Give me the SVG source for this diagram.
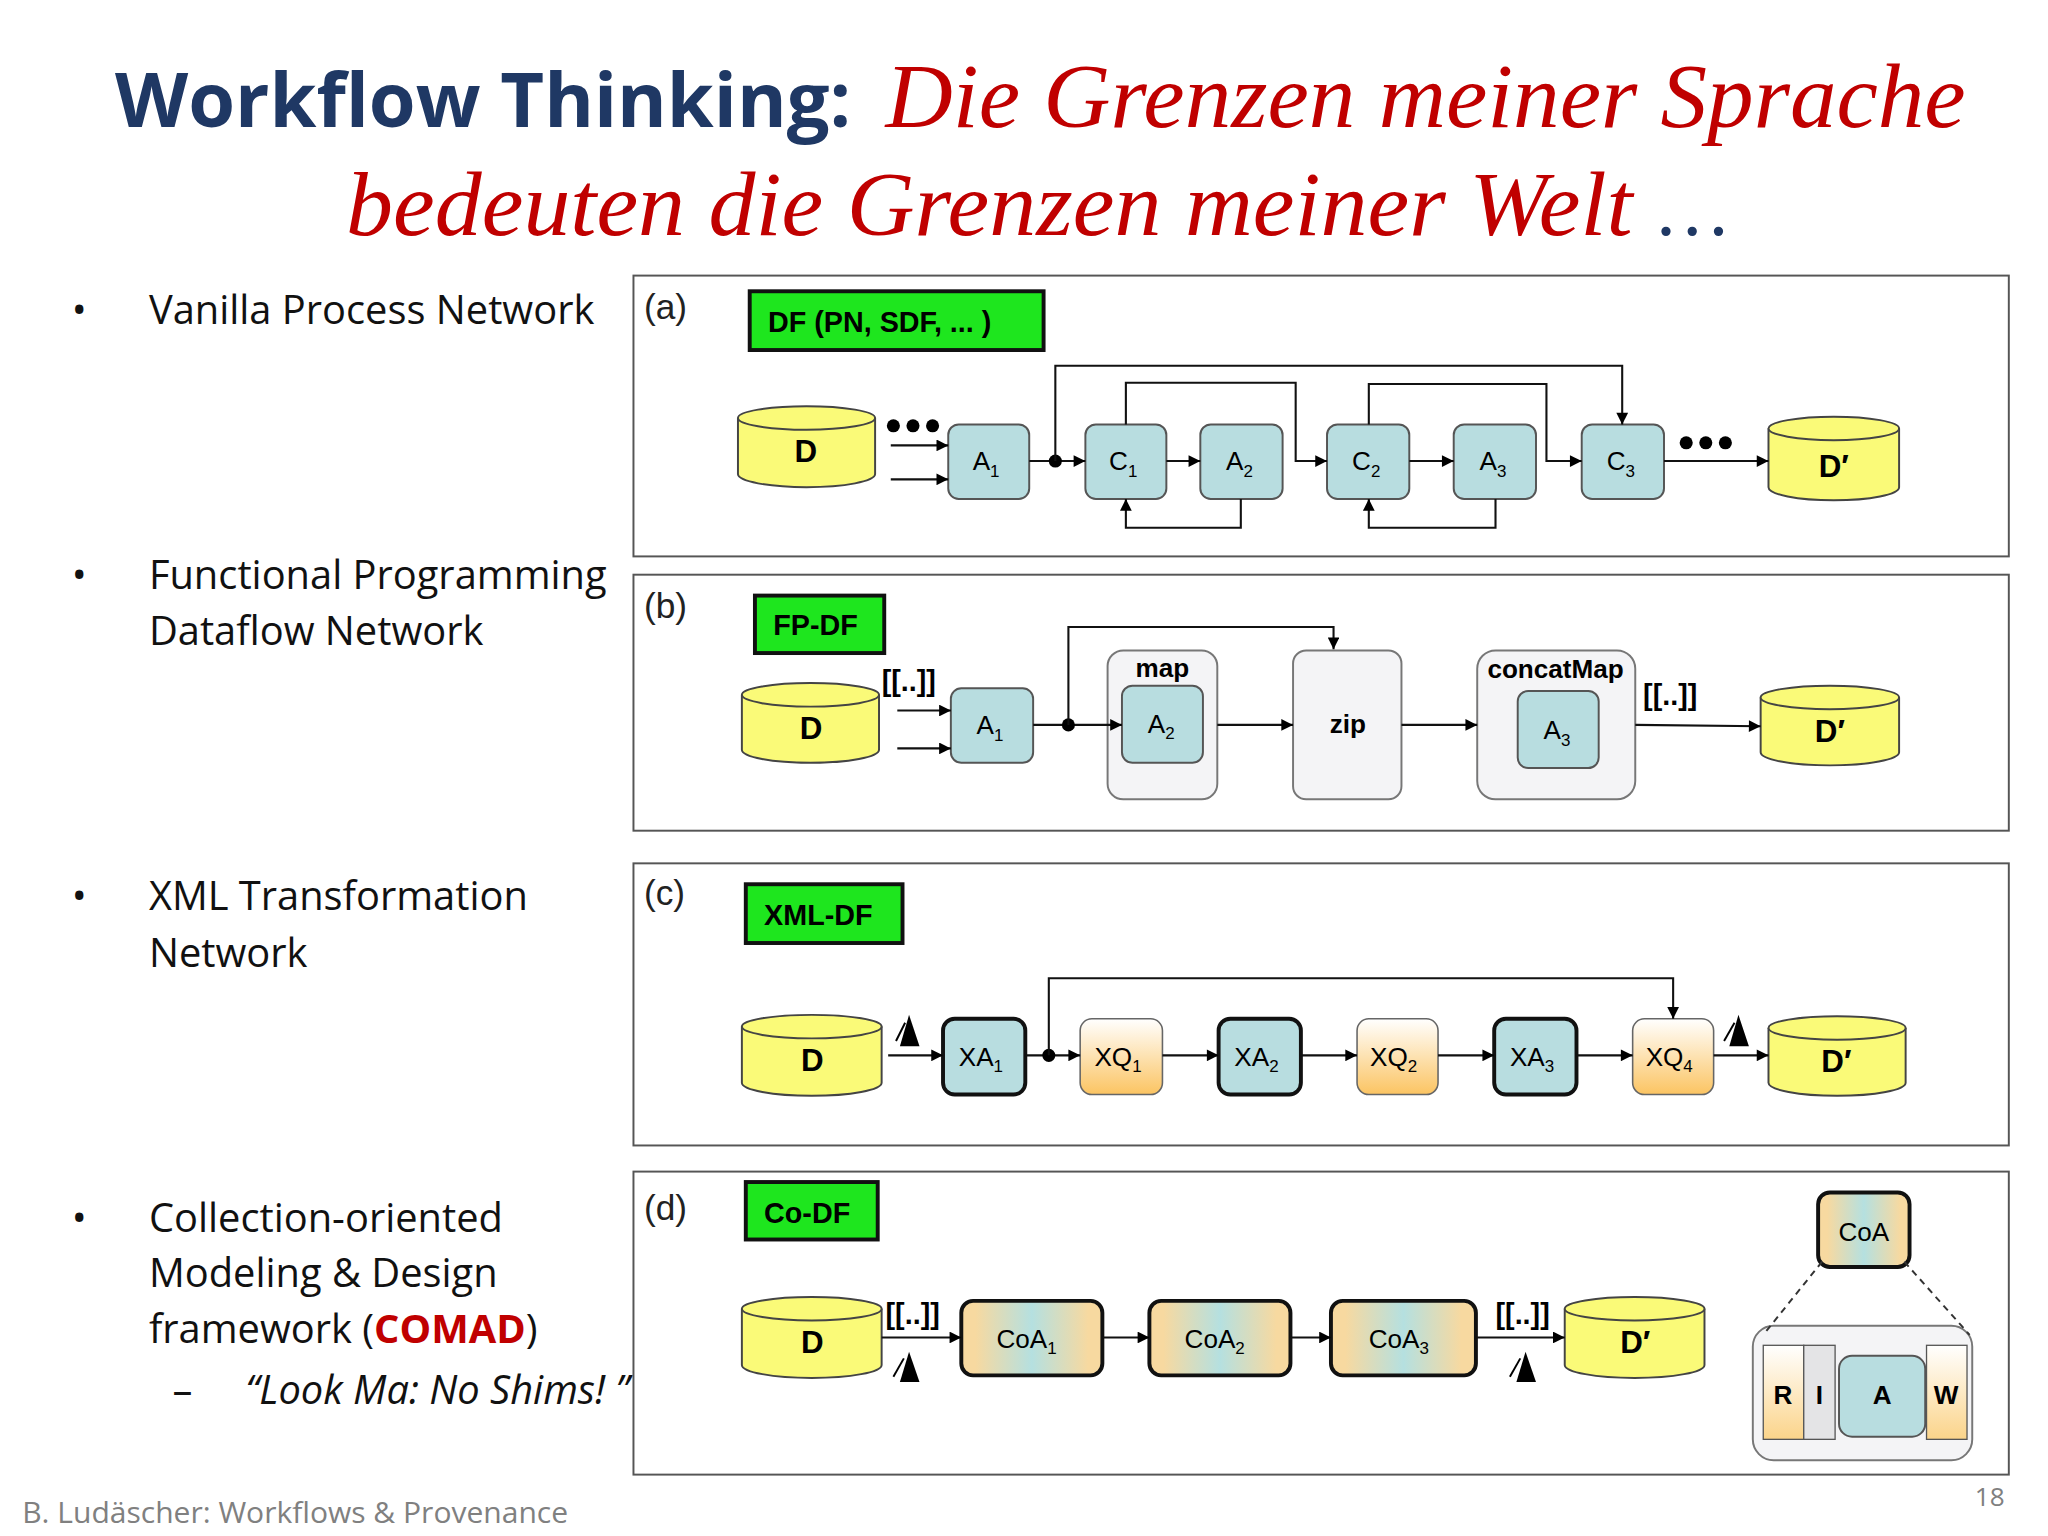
<svg xmlns="http://www.w3.org/2000/svg" width="2048" height="1536" viewBox="0 0 2048 1536">
<defs>
<style>
.pan{fill:#fff;stroke:#555;stroke-width:1.5}
.lbl{font-family:"Liberation Sans",Arial,sans-serif;font-size:27px;fill:#222}
.grn{fill:#1ee61e;stroke:#111;stroke-width:3}
.gt{font-family:"Liberation Sans",Arial,sans-serif;font-weight:bold;font-size:22px;fill:#000}
.cyl{fill:#fafa78;stroke:#444;stroke-width:1.5}
.ct{font-family:"Liberation Sans",Arial,sans-serif;font-weight:bold;font-size:24px;fill:#000;text-anchor:middle}
.box{fill:#b8dde0;stroke:#555;stroke-width:1.5}
.boxk{fill:#b8dde0;stroke:#111;stroke-width:3}
.xq{fill:url(#og);stroke:#666;stroke-width:1.2}
.coa{fill:url(#cg);stroke:#111;stroke-width:3}
.cont{fill:#f4f4f6;stroke:#777;stroke-width:1.5}
.nt{font-family:"Liberation Sans",Arial,sans-serif;font-size:20px;fill:#000;text-anchor:middle}
.ln{fill:none;stroke:#111;stroke-width:1.6}
.dot{fill:#000}
.bul{font-family:"Open Sans","DejaVu Sans",sans-serif;font-size:30.5px;fill:#111}
.brk{font-family:"Liberation Sans",Arial,sans-serif;font-weight:bold;font-size:22px;fill:#000}
</style>
<linearGradient id="og" x1="0" y1="0" x2="0" y2="1"><stop offset="0" stop-color="#fff"/><stop offset="1" stop-color="#fbc462"/></linearGradient>
<linearGradient id="cg" x1="0" y1="0" x2="1" y2="0"><stop offset="0.1" stop-color="#f7d9a0"/><stop offset="0.5" stop-color="#b5e0e0"/><stop offset="0.9" stop-color="#f7d9a0"/></linearGradient>
<linearGradient id="rg" x1="0" y1="0" x2="0" y2="1"><stop offset="0" stop-color="#fff"/><stop offset="1" stop-color="#fbd48a"/></linearGradient>
<marker id="ar" viewBox="0 0 10 10" refX="10" refY="5" markerWidth="10" markerHeight="9" orient="auto" markerUnits="userSpaceOnUse"><path d="M0,0 L10,5 L0,10 z" fill="#000"/></marker>
</defs>
<rect width="2048" height="1536" fill="#fff"/>
<g transform="scale(1.30612)">
<g id="title">
<text x="88" y="97" font-family="'Open Sans','DejaVu Sans',sans-serif" font-weight="bold" font-size="58" fill="#1f3864">Workflow Thinking:</text>
<text x="678" y="97" font-family="'Liberation Serif',serif" font-style="italic" font-size="70" fill="#c00000" textLength="827" lengthAdjust="spacingAndGlyphs">Die Grenzen meiner Sprache</text>
<text x="265" y="180" font-family="'Liberation Serif',serif" font-style="italic" font-size="70" fill="#c00000" textLength="985" lengthAdjust="spacingAndGlyphs">bedeuten die Grenzen meiner Welt</text>
<text x="1270" y="180" font-family="'Liberation Serif',serif" font-style="italic" font-size="60" fill="#1f3864">…</text>
</g>
<g id="bullets">
<text class="bul" x="55" y="248">•</text><text class="bul" x="114" y="248">Vanilla Process Network</text>
<text class="bul" x="55" y="451">•</text><text class="bul" x="114" y="451">Functional Programming</text><text class="bul" x="114" y="494">Dataflow Network</text>
<text class="bul" x="55" y="697">•</text><text class="bul" x="114" y="697">XML Transformation</text><text class="bul" x="114" y="740">Network</text>
<text class="bul" x="55" y="943">•</text><text class="bul" x="114" y="943">Collection-oriented</text><text class="bul" x="114" y="985">Modeling &amp; Design</text><text class="bul" x="114" y="1028">framework (<tspan fill="#c00000" font-weight="bold">COMAD</tspan>)</text>
<text class="bul" x="132" y="1075">–</text><text class="bul" x="188" y="1075" font-style="italic" font-size="28">“Look Ma: No Shims! ”</text>
</g>
<g id="panels">
<rect class="pan" x="485" y="211" width="1053" height="215"/>
<rect class="pan" x="485" y="440" width="1053" height="196"/>
<rect class="pan" x="485" y="661" width="1053" height="216"/>
<rect class="pan" x="485" y="897" width="1053" height="232"/>
<text class="lbl" x="493" y="244">(a)</text>
<text class="lbl" x="493" y="473">(b)</text>
<text class="lbl" x="493" y="693">(c)</text>
<text class="lbl" x="493" y="934">(d)</text>
<rect class="grn" x="574" y="223" width="225" height="45"/><text class="gt" x="588" y="254">DF (PN, SDF, ... )</text>
<rect class="grn" x="578" y="456" width="99" height="44"/><text class="gt" x="592" y="486">FP-DF</text>
<rect class="grn" x="571" y="677" width="120" height="45"/><text class="gt" x="585" y="708">XML-DF</text>
<rect class="grn" x="571" y="905" width="101" height="44"/><text class="gt" x="585" y="936">Co-DF</text>
</g>
<g id="a-nodes">
<g id="a-D"><path class="cyl" d="M565,320 L565,363 A52.5,10 0 0 0 670,363 L670,320"/><ellipse class="cyl" cx="617.5" cy="320" rx="52.5" ry="9"/><text class="ct" x="617" y="354">D</text></g>
<g id="a-A1"><rect class="box" x="726" y="325" width="62" height="57" rx="8"/><text class="nt" x="755" y="360">A<tspan font-size="13" dy="5">1</tspan></text></g>
<g id="a-C1"><rect class="box" x="831" y="325" width="62" height="57" rx="8"/><text class="nt" x="860" y="360">C<tspan font-size="13" dy="5">1</tspan></text></g>
<g id="a-A2"><rect class="box" x="919" y="325" width="63" height="57" rx="8"/><text class="nt" x="949" y="360">A<tspan font-size="13" dy="5">2</tspan></text></g>
<g id="a-C2"><rect class="box" x="1016" y="325" width="63" height="57" rx="8"/><text class="nt" x="1046" y="360">C<tspan font-size="13" dy="5">2</tspan></text></g>
<g id="a-A3"><rect class="box" x="1113" y="325" width="63" height="57" rx="8"/><text class="nt" x="1143" y="360">A<tspan font-size="13" dy="5">3</tspan></text></g>
<g id="a-C3"><rect class="box" x="1211" y="325" width="63" height="57" rx="8"/><text class="nt" x="1241" y="360">C<tspan font-size="13" dy="5">3</tspan></text></g>
<g id="a-D2"><path class="cyl" d="M1354,328 L1354,373 A50,10 0 0 0 1454,373 L1454,328"/><ellipse class="cyl" cx="1404" cy="328" rx="50" ry="9"/><text class="ct" x="1404" y="365">D′</text></g>
</g>
<g id="a-conn">
<circle class="dot" cx="684" cy="326" r="5"/><circle class="dot" cx="699" cy="326" r="5"/><circle class="dot" cx="714" cy="326" r="5"/>
<circle class="dot" cx="1291" cy="339" r="5"/><circle class="dot" cx="1306" cy="339" r="5"/><circle class="dot" cx="1321" cy="339" r="5"/>
<line class="ln" x1="682" y1="341" x2="726" y2="341" marker-end="url(#ar)"/>
<line class="ln" x1="682" y1="367" x2="726" y2="367" marker-end="url(#ar)"/>
<line class="ln" x1="788" y1="353" x2="831" y2="353" marker-end="url(#ar)"/>
<circle class="dot" cx="808" cy="353" r="5"/>
<line class="ln" x1="893" y1="353" x2="919" y2="353" marker-end="url(#ar)"/>
<line class="ln" x1="1079" y1="353" x2="1113" y2="353" marker-end="url(#ar)"/>
<line class="ln" x1="1274" y1="353" x2="1354" y2="353" marker-end="url(#ar)"/>
<polyline class="ln" points="808,353 808,280 1242,280 1242,325" marker-end="url(#ar)"/>
<polyline class="ln" points="862,325 862,293 992,293 992,353 1016,353" marker-end="url(#ar)"/>
<polyline class="ln" points="1048,325 1048,294 1184,294 1184,353 1211,353" marker-end="url(#ar)"/>
<polyline class="ln" points="950,382 950,404 862,404 862,382" marker-end="url(#ar)"/>
<polyline class="ln" points="1145,382 1145,404 1048,404 1048,382" marker-end="url(#ar)"/>
</g>
<g id="b-nodes">
<g id="b-D"><path class="cyl" d="M568,532 L568,574 A52.5,10 0 0 0 673,574 L673,532"/><ellipse class="cyl" cx="620.5" cy="532" rx="52.5" ry="9"/><text class="ct" x="621" y="566">D</text></g>
<g id="b-A1"><rect class="box" x="728" y="527" width="63" height="57" rx="8"/><text class="nt" x="758" y="562">A<tspan font-size="13" dy="5">1</tspan></text></g>
<g id="b-map"><rect class="cont" x="848" y="498" width="84" height="114" rx="12"/><text class="nt" x="890" y="518" font-weight="bold" font-size="18">map</text>
<rect class="box" x="859" y="525" width="62" height="59" rx="8"/><text class="nt" x="889" y="561">A<tspan font-size="13" dy="5">2</tspan></text></g>
<g id="b-zip"><rect class="cont" x="990" y="498" width="83" height="114" rx="10"/><text class="nt" x="1032" y="561" font-weight="bold" font-size="19">zip</text></g>
<g id="b-cm"><rect class="cont" x="1131" y="498" width="121" height="114" rx="14"/><text class="nt" x="1191" y="519" font-weight="bold" font-size="18">concatMap</text>
<rect class="box" x="1162" y="529" width="62" height="59" rx="8"/><text class="nt" x="1192" y="566">A<tspan font-size="13" dy="5">3</tspan></text></g>
<g id="b-D2"><path class="cyl" d="M1348,534 L1348,576 A53,10 0 0 0 1454,576 L1454,534"/><ellipse class="cyl" cx="1401" cy="534" rx="53" ry="9"/><text class="ct" x="1401" y="568">D′</text></g>
</g>
<g id="b-conn">
<text class="brk" x="675" y="529">[[..]]</text>
<text class="brk" x="1258" y="540">[[..]]</text>
<line class="ln" x1="687" y1="544" x2="728" y2="544" marker-end="url(#ar)"/>
<line class="ln" x1="687" y1="573" x2="728" y2="573" marker-end="url(#ar)"/>
<line class="ln" x1="791" y1="555" x2="859" y2="555" marker-end="url(#ar)"/>
<circle class="dot" cx="818" cy="555" r="5"/>
<polyline class="ln" points="818,555 818,480 1021,480 1021,497" marker-end="url(#ar)"/>
<line class="ln" x1="932" y1="555" x2="990" y2="555" marker-end="url(#ar)"/>
<line class="ln" x1="1073" y1="555" x2="1131" y2="555" marker-end="url(#ar)"/>
<line class="ln" x1="1252" y1="555" x2="1348" y2="556" marker-end="url(#ar)"/>
</g>
<g id="c-nodes">
<g id="c-D"><path class="cyl" d="M568,786 L568,829 A53.5,10 0 0 0 675,829 L675,786"/><ellipse class="cyl" cx="621.5" cy="786" rx="53.5" ry="9"/><text class="ct" x="622" y="820">D</text></g>
<g id="c-XA1"><rect class="boxk" x="722" y="780" width="63" height="58" rx="9"/><text class="nt" x="751" y="816">XA<tspan font-size="13" dy="5">1</tspan></text></g>
<g id="c-XQ1"><rect class="xq" x="827" y="780" width="63" height="58" rx="9"/><text class="nt" x="856" y="816">XQ<tspan font-size="13" dy="5">1</tspan></text></g>
<g id="c-XA2"><rect class="boxk" x="933" y="780" width="63" height="58" rx="9"/><text class="nt" x="962" y="816">XA<tspan font-size="13" dy="5">2</tspan></text></g>
<g id="c-XQ2"><rect class="xq" x="1039" y="780" width="62" height="58" rx="9"/><text class="nt" x="1067" y="816">XQ<tspan font-size="13" dy="5">2</tspan></text></g>
<g id="c-XA3"><rect class="boxk" x="1144" y="780" width="63" height="58" rx="9"/><text class="nt" x="1173" y="816">XA<tspan font-size="13" dy="5">3</tspan></text></g>
<g id="c-XQ4"><rect class="xq" x="1250" y="780" width="62" height="58" rx="9"/><text class="nt" x="1278" y="816">XQ<tspan font-size="13" dy="5">4</tspan></text></g>
<g id="c-D2"><path class="cyl" d="M1354,787 L1354,829 A52.5,10 0 0 0 1459,829 L1459,787"/><ellipse class="cyl" cx="1406.5" cy="787" rx="52.5" ry="9"/><text class="ct" x="1406" y="821">D′</text></g>
</g>
<g id="c-conn">
<polygon points="696,777 689,801 704,801" fill="#000"/><line x1="693" y1="783" x2="686" y2="797" stroke="#000" stroke-width="1.5"/>
<polygon points="1331,777 1324,801 1339,801" fill="#000"/><line x1="1328" y1="783" x2="1320" y2="797" stroke="#000" stroke-width="1.5"/>
<line class="ln" x1="680" y1="808" x2="722" y2="808" marker-end="url(#ar)"/>
<line class="ln" x1="785" y1="808" x2="827" y2="808" marker-end="url(#ar)"/>
<circle class="dot" cx="803" cy="808" r="5"/>
<polyline class="ln" points="803,808 803,749 1281,749 1281,780" marker-end="url(#ar)"/>
<line class="ln" x1="890" y1="808" x2="933" y2="808" marker-end="url(#ar)"/>
<line class="ln" x1="996" y1="808" x2="1039" y2="808" marker-end="url(#ar)"/>
<line class="ln" x1="1101" y1="808" x2="1144" y2="808" marker-end="url(#ar)"/>
<line class="ln" x1="1207" y1="808" x2="1250" y2="808" marker-end="url(#ar)"/>
<line class="ln" x1="1312" y1="808" x2="1354" y2="808" marker-end="url(#ar)"/>
</g>
<g id="d-nodes">
<g id="d-D"><path class="cyl" d="M568,1002 L568,1045 A53.5,10 0 0 0 675,1045 L675,1002"/><ellipse class="cyl" cx="621.5" cy="1002" rx="53.5" ry="9"/><text class="ct" x="622" y="1036">D</text></g>
<g id="d-CoA1"><rect class="coa" x="736" y="996" width="108" height="57" rx="9"/><text class="nt" x="786" y="1032">CoA<tspan font-size="13" dy="5">1</tspan></text></g>
<g id="d-CoA2"><rect class="coa" x="880" y="996" width="108" height="57" rx="9"/><text class="nt" x="930" y="1032">CoA<tspan font-size="13" dy="5">2</tspan></text></g>
<g id="d-CoA3"><rect class="coa" x="1019" y="996" width="111" height="57" rx="9"/><text class="nt" x="1071" y="1032">CoA<tspan font-size="13" dy="5">3</tspan></text></g>
<g id="d-D2"><path class="cyl" d="M1198,1002 L1198,1045 A53.5,10 0 0 0 1305,1045 L1305,1002"/><ellipse class="cyl" cx="1251.5" cy="1002" rx="53.5" ry="9"/><text class="ct" x="1252" y="1036">D′</text></g>
<g id="d-CoA"><rect class="coa" x="1392" y="913" width="70" height="57" rx="9"/><text class="nt" x="1427" y="950">CoA</text></g>
<g id="d-inner"><rect class="cont" x="1342" y="1015" width="168" height="103" rx="16"/>
<rect x="1350" y="1030" width="31" height="72" fill="url(#rg)" stroke="#555"/><text class="nt" x="1365" y="1075" font-weight="bold">R</text>
<rect x="1381" y="1030" width="24" height="72" fill="#e4e4e6" stroke="#555"/><text class="nt" x="1393" y="1075" font-weight="bold">I</text>
<rect class="box" x="1408" y="1038" width="66" height="62" rx="10"/><text class="nt" x="1441" y="1075" font-weight="bold">A</text>
<rect x="1475" y="1030" width="31" height="72" fill="url(#rg)" stroke="#555"/><text class="nt" x="1490" y="1075" font-weight="bold">W</text></g>
</g>
<g id="d-conn">
<text class="brk" x="678" y="1014">[[..]]</text>
<text class="brk" x="1145" y="1014">[[..]]</text>
<polygon points="696,1035 689,1058 704,1058" fill="#000"/><line x1="692" y1="1040" x2="684" y2="1054" stroke="#000" stroke-width="1.5"/>
<polygon points="1168,1035 1161,1058 1176,1058" fill="#000"/><line x1="1164" y1="1040" x2="1156" y2="1054" stroke="#000" stroke-width="1.5"/>
<line class="ln" x1="675" y1="1024" x2="736" y2="1024" marker-end="url(#ar)"/>
<line class="ln" x1="844" y1="1024" x2="880" y2="1024" marker-end="url(#ar)"/>
<line class="ln" x1="988" y1="1024" x2="1019" y2="1024" marker-end="url(#ar)"/>
<line class="ln" x1="1130" y1="1024" x2="1198" y2="1024" marker-end="url(#ar)"/>
<line x1="1395" y1="966" x2="1350" y2="1022" stroke="#333" stroke-width="1.5" stroke-dasharray="5,4"/>
<line x1="1458" y1="966" x2="1508" y2="1022" stroke="#333" stroke-width="1.5" stroke-dasharray="5,4"/>
</g>
<g id="footer">
<text x="17" y="1166" font-family="'Open Sans','DejaVu Sans',sans-serif" font-size="23" fill="#808080">B. Ludäscher: Workflows &amp; Provenance</text>
<text x="1512" y="1153" font-family="'Open Sans','DejaVu Sans',sans-serif" font-size="20" fill="#808080">18</text>
</g>
</g>
</svg>
